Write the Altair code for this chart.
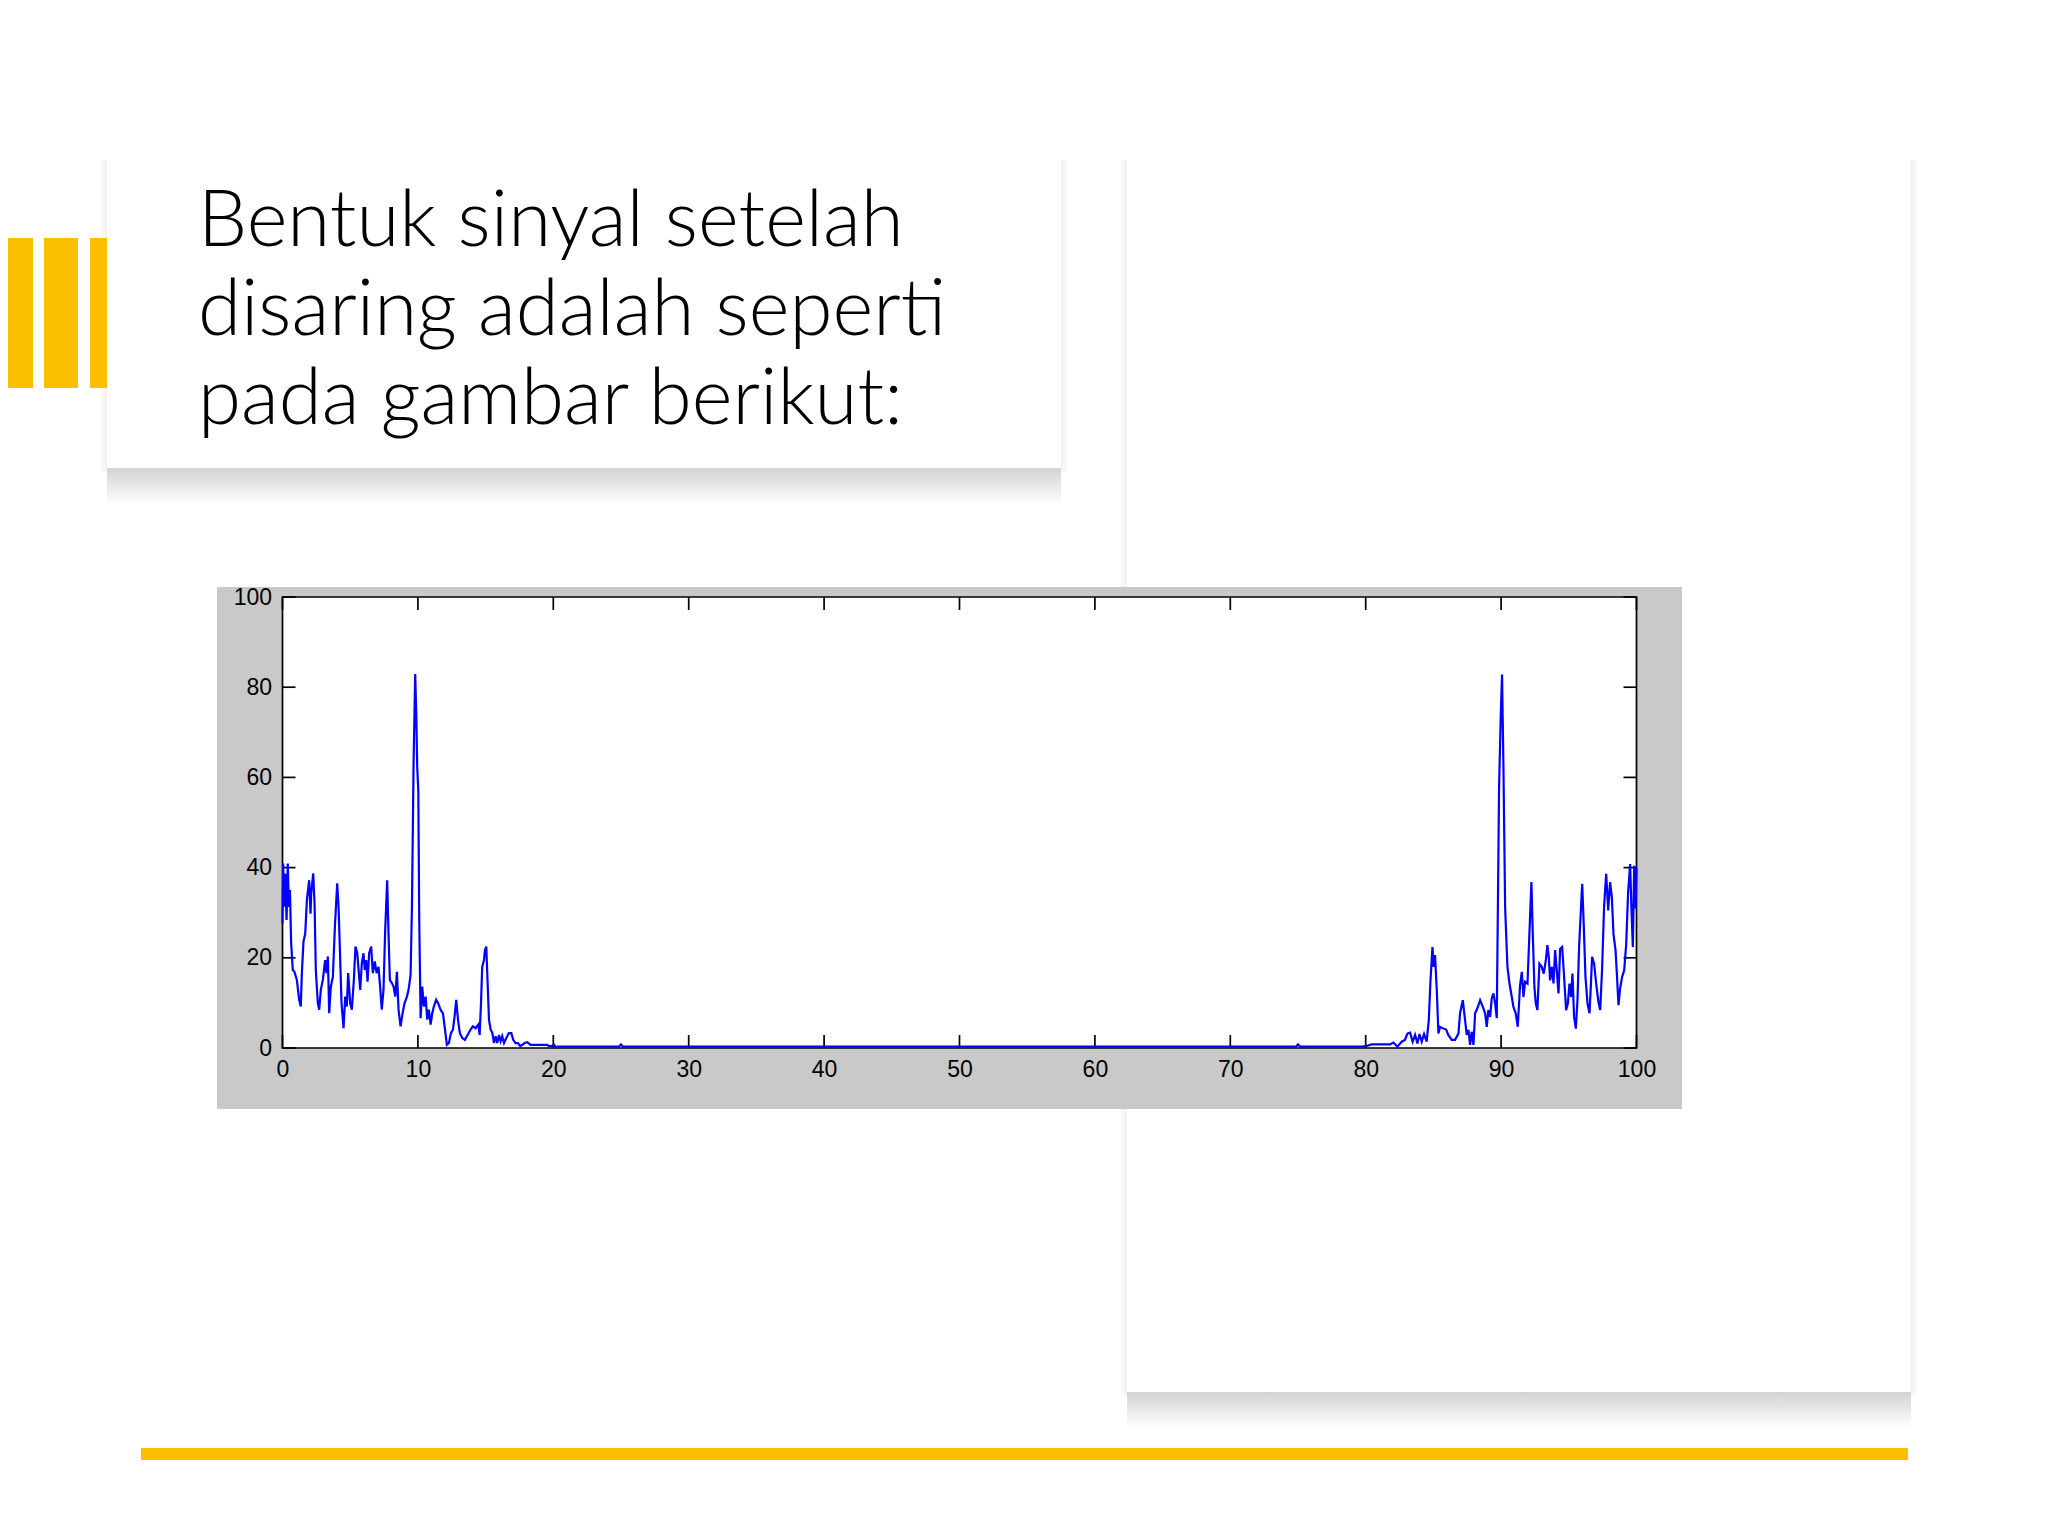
import altair as alt
import pandas as pd

# ---- data ----
freq_left = [0, 0.05, 0.12, 0.2, 0.3, 0.39, 0.47, 0.55, 0.64, 0.76, 0.88, 1.06, 1.23, 1.35, 1.43, 1.55,
             1.68, 1.8, 1.97, 2.07, 2.12, 2.27, 2.37, 2.46, 2.61, 2.71, 2.83, 2.98, 3.15, 3.25, 3.35, 3.45,
             3.57, 3.72, 3.87, 4.04, 4.14, 4.24, 4.36, 4.51, 4.63, 4.75, 4.85, 5.0, 5.12, 5.27, 5.39, 5.52,
             5.64, 5.74, 5.86, 5.98, 6.08, 6.18, 6.28, 6.4, 6.55, 6.67, 6.82, 6.95, 7.09, 7.21, 7.33, 7.46,
             7.58, 7.73, 7.83, 7.93, 8.08, 8.2, 8.33, 8.45, 8.57, 8.72, 8.87, 9.01, 9.19, 9.31, 9.46, 9.56,
             9.68, 9.8, 9.88, 9.95, 10.03, 10.1, 10.2, 10.32, 10.44, 10.57, 10.69, 10.81, 10.94, 11.06, 11.18,
             11.35, 11.5, 11.67, 11.85, 12.0, 12.14, 12.29, 12.44, 12.59, 12.71, 12.83, 12.96, 13.1, 13.28,
             13.47, 13.67, 13.89, 14.06, 14.26, 14.46, 14.56, 14.66, 14.75, 14.88, 14.95, 15.05, 15.15, 15.25,
             15.37, 15.5, 15.62, 15.74, 15.86, 15.99, 16.11, 16.23, 16.36, 16.53, 16.72, 16.9, 17.04, 17.21,
             17.39, 17.56, 17.7, 17.88, 18.08, 18.32, 18.69, 19.19, 19.56, 19.68, 19.93, 20.05, 20.17]
mag_left = [27.6, 40.9, 31.3, 38.7, 28.4, 40.9, 31.3, 35.0, 23.2, 17.3, 16.9, 15.1, 10.7, 9.2, 16.6, 23.6,
            25.4, 32.8, 37.2, 29.8, 34.3, 38.7, 31.7, 17.3, 9.9, 8.5, 12.9, 15.1, 19.5, 16.6, 20.3, 7.7,
            13.6, 15.8, 26.9, 36.5, 31.3, 21.7, 9.9, 4.4, 11.4, 9.2, 16.6, 9.9, 8.5, 15.1, 22.5, 21.0,
            16.6, 12.9, 18.8, 21.0, 17.3, 19.5, 14.7, 21.0, 22.5, 16.6, 19.2, 16.6, 18.0, 13.6, 8.5, 12.9,
            25.8, 37.2, 25.4, 15.1, 14.4, 13.6, 11.4, 16.9, 8.5, 4.8, 7.7, 9.9, 11.4, 12.9, 16.2, 31.3,
            63.0, 82.9, 74.0, 62.2, 57.1, 28.4, 6.6, 13.6, 9.2, 11.4, 6.3, 8.5, 5.2, 7.7, 9.2,
            10.7, 9.9, 8.5, 7.7, 4.1, 0.7, 1.1, 3.3, 4.1, 7.0, 10.7, 6.3, 3.3, 2.2,
            1.8, 2.9, 4.1, 4.8, 4.4, 5.2, 2.9, 9.9, 18.0, 19.5, 21.7, 22.5, 14.4, 6.3,
            4.1, 3.3, 1.1, 2.6, 1.1, 2.9, 1.5, 2.6, 1.1, 2.2, 3.3, 3.3, 1.8, 1.1,
            1.1, 0.4, 0.7, 1.1, 1.3, 0.7, 0.7, 0.7, 0.7, 0.4, 0.4, 0.7, 0.2]

freq_mid = [20.3, 24.85, 25.0, 25.15, 74.85, 75.0, 75.15, 79.7]
mag_mid = [0.3, 0.3, 0.8, 0.3, 0.3, 0.8, 0.3, 0.3]

freq_right = [80.0, 80.44, 81.8, 82.04, 82.34, 82.66, 82.9, 83.08, 83.28, 83.47, 83.65, 83.82, 83.97, 84.14,
              84.31, 84.5, 84.66, 84.78, 84.93, 85.02, 85.12, 85.25, 85.37, 85.49, 85.74, 85.94, 86.1, 86.35,
              86.6, 86.85, 86.97, 87.17, 87.34, 87.46, 87.59, 87.71, 87.83, 87.96, 88.08, 88.25, 88.45, 88.65,
              88.82, 88.94, 89.06, 89.19, 89.31, 89.43, 89.56, 89.68, 89.75, 89.85, 89.98, 90.07, 90.17, 90.3,
              90.47, 90.62, 90.79, 90.91, 91.08, 91.23, 91.4, 91.53, 91.65, 91.77, 91.95, 92.09, 92.24, 92.34,
              92.46, 92.56, 92.68, 92.83, 93.0, 93.15, 93.3, 93.42, 93.52, 93.62, 93.74, 93.87, 93.99, 94.11,
              94.24, 94.36, 94.51, 94.66, 94.8, 94.93, 95.05, 95.17, 95.27, 95.39, 95.52, 95.64, 95.76, 95.89,
              95.99, 96.11, 96.23, 96.38, 96.53, 96.63, 96.72, 96.87, 97.02, 97.19, 97.32, 97.46, 97.61, 97.76,
              97.91, 98.05, 98.18, 98.3, 98.45, 98.55, 98.67, 98.79, 98.94, 99.09, 99.24, 99.38, 99.53, 99.63,
              99.73, 99.83, 99.93, 100.0]
mag_right = [0.4, 0.8, 0.8, 1.2, 0.3, 1.4, 1.8, 3.2, 3.4, 1.4, 2.9, 1.0, 3.1, 1.4,
             3.1, 1.4, 6.2, 14.7, 22.4, 18.0, 20.6, 12.8, 3.2, 4.7, 4.3, 4.1, 2.9, 1.8,
             1.8, 3.2, 7.7, 10.6, 6.2, 2.9, 4.0, 0.7, 3.6, 0.7, 7.7, 8.8, 10.6, 9.1,
             7.7, 4.7, 8.4, 6.9, 11.0, 12.1, 9.9, 6.6, 27.6, 57.8, 74.3, 82.8, 62.9, 30.9,
             18.0, 14.3, 11.3, 9.1, 7.7, 4.7, 13.9, 16.9, 11.3, 14.7, 14.3, 25.3, 36.8, 25.3,
             13.6, 9.9, 8.4, 18.7, 18.0, 16.5, 19.4, 22.8, 20.2, 15.0, 18.0, 14.3, 21.7, 17.2,
             12.1, 22.0, 22.4, 15.4, 8.4, 9.9, 14.3, 11.3, 16.5, 6.9, 4.3, 10.6, 22.4, 30.5,
             36.4, 26.8, 15.8, 9.9, 7.7, 13.9, 20.2, 18.7, 14.3, 10.2, 8.4, 17.6, 31.6, 38.6,
             30.5, 36.8, 33.4, 25.3, 21.7, 16.5, 9.5, 13.2, 15.8, 17.2, 23.1, 34.5, 40.8, 30.5,
             22.4, 40.4, 30.9, 40.0]

x_ticks = [0, 10, 20, 30, 40, 50, 60, 70, 80, 90, 100]
y_ticks = [0, 20, 40, 60, 80, 100]
title_lines = ["Bentuk sinyal setelah", "disaring adalah seperti", "pada gambar berikut:"]

# ---- layout (page pixels) ----
OX, OY = 282.5, 597.0          # plot-area origin on the page
W, H = 1354, 451               # plot-area size
TICK = 13
YELLOW = "#fcbf00"

df = pd.DataFrame({
    "freq": freq_left + freq_mid + freq_right,
    "mag": mag_left + mag_mid + mag_right,
})

one = alt.Data(values=[{}])


def box(x0, x1, y0, y1, **kw):
    return alt.Chart(one).mark_rect(**kw).encode(
        x=alt.value(x0 - OX), x2=alt.value(x1 - OX),
        y=alt.value(y0 - OY), y2=alt.value(y1 - OY))


def vgrad(c0, c1):
    return alt.LinearGradient(gradient="linear", x1=0, y1=0, x2=0, y2=1,
                              stops=[alt.GradientStop(color=c0, offset=0),
                                     alt.GradientStop(color=c1, offset=1)])


def hgrad(c0, c1):
    return alt.LinearGradient(gradient="linear", x1=0, y1=0, x2=1, y2=0,
                              stops=[alt.GradientStop(color=c0, offset=0),
                                     alt.GradientStop(color=c1, offset=1)])


deco = [
    # soft shadows of the slide cards
    box(1119, 1127, 160, 1395, color=hgrad("#ffffff", "#f1f1f1")),
    box(1911, 1919, 160, 1395, color=hgrad("#f1f1f1", "#ffffff")),
    box(1127, 1911, 1392, 1428, color=vgrad("#d3d3d3", "#ffffff")),
    box(99, 107, 160, 471, color=hgrad("#ffffff", "#f1f1f1")),
    box(1061, 1069, 160, 471, color=hgrad("#f1f1f1", "#ffffff")),
    box(107, 1061, 468, 505, color=vgrad("#d3d3d3", "#ffffff")),
    # cards
    box(1127, 1911, 157, 1392, color="#ffffff"),
    box(107, 1061, 157, 468, color="#ffffff"),
    # yellow accents
    box(0, 33, 238, 388, color=YELLOW),
    box(44, 78, 238, 388, color=YELLOW),
    box(90, 107, 238, 388, color=YELLOW),
    box(141, 1908, 1448, 1460, color=YELLOW),
    # MATLAB figure background
    box(217, 1682, 587, 1109, color="#c9c9c9"),
    # axes box
    box(OX, OX + W, OY, OY + H, fill="#ffffff", stroke="#000000", strokeWidth=1.7),
]

title = alt.Chart(one).mark_text(
    text=title_lines, align="left", baseline="alphabetic", font="Lato",
    fontSize=78, fontWeight=300, lineHeight=89, color="#000000",
).encode(x=alt.value(198 - OX), y=alt.value(246 - OY))

xscale = alt.Scale(domain=[0, 100], nice=False, zero=False)
yscale = alt.Scale(domain=[0, 100], nice=False, zero=False)
axis_style = dict(ticks=False, domain=False, grid=False, labelFont="Liberation Sans",
                  labelFontSize=23, labelColor="#000000", title=None, zindex=1)

line = alt.Chart(df).mark_line(color="#0000ff", strokeWidth=2.2).encode(
    x=alt.X("freq:Q", scale=xscale,
            axis=alt.Axis(values=x_ticks, labelPadding=10, labelFlush=False, **axis_style)),
    y=alt.Y("mag:Q", scale=yscale,
            axis=alt.Axis(values=y_ticks, labelPadding=11, labelFlush=False, **axis_style)),
)

xt = pd.DataFrame({"t": x_ticks})
yt = pd.DataFrame({"t": y_ticks})
tick_kw = dict(color="#000000", strokeWidth=1.7)
ticks = [
    alt.Chart(xt).mark_rule(**tick_kw).encode(x=alt.X("t:Q", scale=xscale), y=alt.value(H), y2=alt.value(H - TICK)),
    alt.Chart(xt).mark_rule(**tick_kw).encode(x=alt.X("t:Q", scale=xscale), y=alt.value(0), y2=alt.value(TICK)),
    alt.Chart(yt).mark_rule(**tick_kw).encode(y=alt.Y("t:Q", scale=yscale), x=alt.value(0), x2=alt.value(TICK)),
    alt.Chart(yt).mark_rule(**tick_kw).encode(y=alt.Y("t:Q", scale=yscale), x=alt.value(W), x2=alt.value(W - TICK)),
]

chart = alt.layer(*deco, title, *ticks, line).properties(
    width=W, height=H,
    autosize=alt.AutoSizeParams(type="none"),
    padding={"left": OX - 8, "top": OY - 8, "right": 2032 - (OX - 8) - W, "bottom": 1520 - (OY - 8) - H},
    background="#ffffff",
).configure_view(stroke=None)

chart.save("out.html", embed_options={"renderer": "svg", "actions": False})
